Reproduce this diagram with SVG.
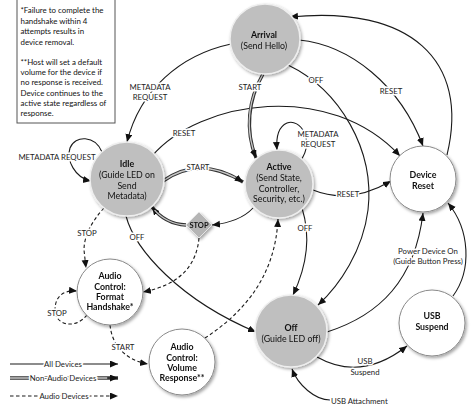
<svg xmlns="http://www.w3.org/2000/svg" width="474" height="411" viewBox="0 0 474 411">
<style>
.c{fill:none;stroke:#1a1a1a;stroke-width:1.1}
.d{fill:none;stroke:#1a1a1a;stroke-width:1.1;stroke-dasharray:3.5 2.5}
.o{fill:none;stroke:#333;stroke-width:3.4}
.i{fill:none;stroke:#c8c8c8;stroke-width:1.3;stroke-dasharray:90 100}
.g{fill:#bfbfbf;stroke:#eeeeee;stroke-width:1.5}
.w{fill:#fff;stroke:#8a8a8a;stroke-width:1}
.t{font-family:Lato,"Liberation Sans",sans-serif;font-weight:bold;font-size:8.8px;fill:#111;text-anchor:middle}
.l{font-family:Lato,"Liberation Sans",sans-serif;font-size:7.8px;fill:#222;text-anchor:middle;paint-order:stroke;stroke:#fff;stroke-width:3px;stroke-linejoin:round}
.nt{font-family:Lato,"Liberation Sans",sans-serif;font-size:7.9px;fill:#111}
</style>
<defs>
<marker id="a" markerUnits="userSpaceOnUse" markerWidth="9" markerHeight="8" refX="8" refY="3.5" orient="auto"><path d="M0,0 L8,3.5 L0,7 z" fill="#111"/></marker>
<filter id="s" x="-20%" y="-20%" width="150%" height="150%"><feDropShadow dx="1.5" dy="1.8" stdDeviation="1.6" flood-color="#000" flood-opacity="0.35"/></filter>
</defs>
<rect width="474" height="411" fill="#fff"/>

<g id="note">
<rect x="17" y="-1" width="98" height="124" fill="#fff" stroke="#555" stroke-width="1"/>
<text class="nt" x="20.5" y="13">*Failure to complete the</text>
<text class="nt" x="20.5" y="23.5">handshake within 4</text>
<text class="nt" x="20.5" y="34">attempts results in</text>
<text class="nt" x="20.5" y="44.5">device removal.</text>
<text class="nt" x="20.5" y="64.5">**Host will set a default</text>
<text class="nt" x="20.5" y="75">volume for the device if</text>
<text class="nt" x="20.5" y="85">no response is received.</text>
<text class="nt" x="20.5" y="95.5">Device continues to the</text>
<text class="nt" x="20.5" y="105.5">active state regardless of</text>
<text class="nt" x="20.5" y="116">response.</text>
</g>

<g id="connectors">
<path class="c" d="M447,155 C470,60 410,5 290,17" marker-end="url(#a)"/>
<path class="c" d="M299,40 C350,45 400,85 423,146" marker-end="url(#a)"/>
<path class="c" d="M231,44 C180,55 140,90 127,142" marker-end="url(#a)"/>
<path class="c" d="M288,65 C340,90 375,150 368,210 C363,250 340,285 318,305" marker-end="url(#a)"/>
<path class="c" d="M152,156 C200,100 330,80 400,156" marker-end="url(#a)"/>
<path class="o" d="M263,74 C248,100 245,130 256,158" marker-end="url(#a)"/>
<path class="i" pathLength="100" d="M263,74 C248,100 245,130 256,158"/>
<path class="o" d="M163,181 Q200,155 243,182" marker-end="url(#a)"/>
<path class="i" pathLength="100" d="M163,181 Q200,155 243,182"/>
<path class="c" d="M301,160 C315,140 300,118 287,123 C278,127 276,138 277,150" marker-end="url(#a)"/>
<path class="c" d="M102,152 C95,135 75,135 70,148 C66,160 75,178 91,181" marker-end="url(#a)"/>
<path class="c" d="M313,190 Q350,205 391,181" marker-end="url(#a)"/>
<path class="c" d="M253,208 Q240,222 212,225" marker-end="url(#a)"/>
<path class="o" d="M186,225 Q165,224 152,207" marker-end="url(#a)"/>
<path class="i" pathLength="100" d="M186,225 Q165,224 152,207"/>
<path class="c" d="M302,208 C312,240 305,270 293,295" marker-end="url(#a)"/>
<path class="c" d="M126,216 C135,250 180,300 256,332" marker-end="url(#a)"/>
<path class="d" d="M104,208 Q84,230 84,250 L86,268" marker-end="url(#a)"/>
<path class="d" d="M199,238 Q195,282 143,292" marker-end="url(#a)"/>
<path class="d" d="M87,315 C75,330 55,325 55,310 C55,295 65,290 77,291" marker-end="url(#a)"/>
<path class="d" d="M110,325 C112,345 125,360 148,364" marker-end="url(#a)"/>
<path class="d" d="M205,338 C240,315 275,280 278,219" marker-end="url(#a)"/>
<path class="c" d="M327,332 C380,315 415,280 423,213" marker-end="url(#a)"/>
<path class="c" d="M453,296 C472,270 470,230 448,203" marker-end="url(#a)"/>
<path class="c" d="M317,357 C340,370 370,375 407,346" marker-end="url(#a)"/>
<path class="c" d="M330,400 C315,400 298,385 292,369" marker-end="url(#a)"/>

<text class="l" x="150" y="90">METADATA</text>
<text class="l" x="150" y="100">REQUEST</text>
<text class="l" x="250" y="90">START</text>
<text class="l" x="316" y="83">OFF</text>
<text class="l" x="391" y="94">RESET</text>
<text class="l" x="184" y="136">RESET</text>
<text class="l" x="57" y="160">METADATA REQUEST</text>
<text class="l" x="318" y="137">METADATA</text>
<text class="l" x="318" y="147">REQUEST</text>
<text class="l" x="198" y="170">START</text>
<text class="l" x="348" y="197">RESET</text>
<text class="l" x="305" y="231">OFF</text>
<text class="l" x="137" y="240">OFF</text>
<text class="l" x="87" y="236">STOP</text>
<text class="l" x="57" y="316">STOP</text>
<text class="l" x="123" y="350">START</text>
<text class="l" x="428" y="254">Power Device On</text>
<text class="l" x="428" y="264">(Guide Button Press)</text>
<text class="l" x="365" y="364">USB</text>
<text class="l" x="365" y="375">Suspend</text>
<text class="l" x="331" y="404" style="text-anchor:start">USB Attachment</text>

<path class="c" d="M10,364 L118,364" marker-end="url(#a)"/>
<text class="l" x="63" y="367">All Devices</text>
<path class="o" d="M10,378 L118,378" marker-end="url(#a)"/>
<path class="i" pathLength="100" d="M10,378 L118,378"/>
<text class="l" x="63" y="381">Non-Audio Devices</text>
<path class="d" d="M10,396 L118,396" marker-end="url(#a)"/>
<text class="l" x="64" y="399">Audio Devices</text>
</g>

<g id="arrival" filter="url(#s)"><circle class="g" cx="265" cy="39" r="35"/><text class="t" x="264" y="38">Arrival</text><text class="t" x="264" y="49" style="font-weight:normal">(Send Hello)</text></g>
<g id="idle" filter="url(#s)"><circle class="g" cx="127" cy="179" r="37"/><text class="t" x="127" y="167">Idle</text><text class="t" x="127" y="178" style="font-weight:normal">(Guide LED on</text><text class="t" x="127" y="189" style="font-weight:normal">Send</text><text class="t" x="127" y="199" style="font-weight:normal">Metadata)</text></g>
<g id="active" filter="url(#s)"><circle class="g" cx="279" cy="184" r="34"/><text class="t" x="279" y="170">Active</text><text class="t" x="279" y="181" style="font-weight:normal">(Send State,</text><text class="t" x="279" y="192" style="font-weight:normal">Controller,</text><text class="t" x="279" y="202" style="font-weight:normal">Security, etc.)</text></g>
<g id="device-reset" filter="url(#s)"><circle class="w" cx="423" cy="179" r="33"/><text class="t" x="423" y="178">Device</text><text class="t" x="423" y="189">Reset</text></g>
<g id="stop" filter="url(#s)"><path d="M199,212 L212,225 L199,238 L186,225 z" fill="#b5b5b5" stroke="#e5e5e5" stroke-width="1"/><text class="t" x="199" y="228" style="font-size:7.5px">STOP</text></g>
<g id="format" filter="url(#s)"><circle class="w" cx="110" cy="292" r="33"/><text class="t" x="110" y="279">Audio</text><text class="t" x="110" y="290">Control:</text><text class="t" x="110" y="300">Format</text><text class="t" x="110" y="310">Handshake*</text></g>
<g id="volume" filter="url(#s)"><circle class="w" cx="182" cy="362" r="33"/><text class="t" x="182" y="350">Audio</text><text class="t" x="182" y="361">Control:</text><text class="t" x="182" y="371">Volume</text><text class="t" x="182" y="381">Response**</text></g>
<g id="off" filter="url(#s)"><circle class="g" cx="291" cy="331" r="36"/><text class="t" x="291" y="331">Off</text><text class="t" x="291" y="342" style="font-weight:normal">(Guide LED off)</text></g>
<g id="usb-suspend" filter="url(#s)"><circle class="w" cx="432" cy="323" r="33"/><text class="t" x="432" y="319">USB</text><text class="t" x="432" y="330">Suspend</text></g>
</svg>
